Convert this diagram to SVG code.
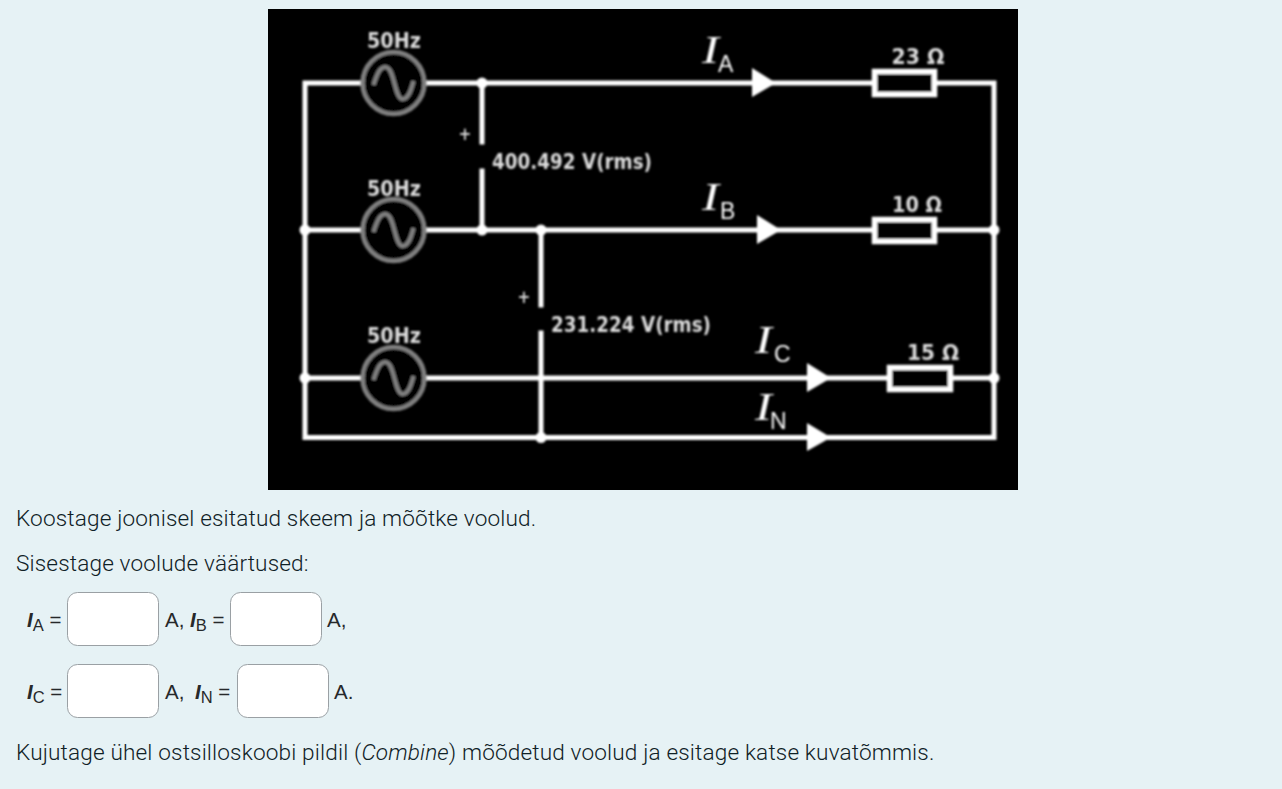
<svg xmlns="http://www.w3.org/2000/svg" width="1282" height="789" viewBox="0 0 1282 789">
<defs>
<filter id="soft" x="-5%" y="-5%" width="110%" height="110%"><feGaussianBlur stdDeviation="0.8"/></filter>
<g id="sine"><circle cx="0" cy="0" r="31" fill="#000" stroke="#808080" stroke-width="4.500"/><path d="M-20,2 C-16,-11 -13,-16 -8,-16 C1,-16 1,16 9,16 C14,16 17,10 20,-2" fill="none" stroke="#808080" stroke-width="4.200"/></g>
</defs>
<style>
.w{fill:none;stroke:#fff;stroke-width:5;stroke-linecap:square;stroke-linejoin:miter}
.r{fill:#000;stroke:#fff;stroke-width:5.500}
.a{fill:#fff}
.d{fill:#fff}
.s{font-family:"DejaVu Sans",sans-serif;font-stretch:condensed;font-size:21px;fill:#dcdcdc;font-weight:700}
.i{font-family:"Liberation Serif",serif;font-style:italic;font-size:39px;fill:#fff}
.sub{font-family:"Liberation Sans",sans-serif;font-size:23px;fill:#fff}
.t{font-family:Roboto,sans-serif;font-size:22.600px;font-weight:300;letter-spacing:0.145px;fill:#0f2126}
.m{font-family:"Liberation Sans",sans-serif;font-size:20.500px;fill:#26292b}
.mi{font-style:italic;font-weight:700}
.ms{font-size:16.500px}
.box{fill:#fff;stroke:#9aa0a4;stroke-width:1}
</style>
<rect width="1282" height="789" fill="#e6f2f5"/>
<g id="figure">
<rect x="268" y="9" width="750" height="481" fill="#000"/>
<g filter="url(#soft)">
<g id="connectors">
<path class="w" d="M872,83H305V437.500H994V83H872"/>
<path class="w" d="M305,230H994"/>
<path class="w" d="M305,378H994"/>
<path class="w" d="M482,83V142M482,171V230"/>
<path class="w" d="M541,230V305M541,333V437"/>
<polygon class="a" points="752,68 776,83 752,97"/>
<polygon class="a" points="757,215 781,230 757,244"/>
<polygon class="a" points="807,363 831,378 807,392"/>
<polygon class="a" points="807,423 831,437.500 807,451"/>
<circle class="d" cx="482" cy="83" r="5.500"/>
<circle class="d" cx="482" cy="230" r="5.500"/>
<circle class="d" cx="541" cy="230" r="5.500"/>
<circle class="d" cx="541" cy="437.500" r="5.500"/>
<circle class="d" cx="305" cy="230" r="5.500"/>
<circle class="d" cx="305" cy="378" r="5.500"/>
<circle class="d" cx="994" cy="230" r="5.500"/>
<circle class="d" cx="994" cy="378" r="5.500"/>
</g>
<g id="source-a"><use href="#sine" x="393.500" y="83"/><text class="s" x="394" y="48" text-anchor="middle" textLength="54" lengthAdjust="spacingAndGlyphs">50Hz</text></g>
<g id="source-b"><use href="#sine" x="393.500" y="230"/><text class="s" x="394" y="196" text-anchor="middle" textLength="54" lengthAdjust="spacingAndGlyphs">50Hz</text></g>
<g id="source-c"><use href="#sine" x="393.500" y="378"/><text class="s" x="394" y="343" text-anchor="middle" textLength="54" lengthAdjust="spacingAndGlyphs">50Hz</text></g>
<g id="res-a"><rect class="r" x="874.500" y="71.500" width="60" height="23"/><text class="s" x="918" y="64" text-anchor="middle" textLength="53" lengthAdjust="spacingAndGlyphs">23 Ω</text></g>
<g id="res-b"><rect class="r" x="874.500" y="219.500" width="60" height="22"/><text class="s" x="917" y="212" text-anchor="middle" textLength="50" lengthAdjust="spacingAndGlyphs">10 Ω</text></g>
<g id="res-c"><rect class="r" x="889.500" y="367.500" width="61" height="22"/><text class="s" x="933" y="360" text-anchor="middle" textLength="52" lengthAdjust="spacingAndGlyphs">15 Ω</text></g>
<g id="meter-ab"><text class="s" x="465" y="140" text-anchor="middle" style="font-size:17px">+</text><text class="s" x="492" y="169" textLength="160" lengthAdjust="spacingAndGlyphs">400.492 V(rms)</text></g>
<g id="meter-bc"><text class="s" x="524" y="303" text-anchor="middle" style="font-size:17px">+</text><text class="s" x="551" y="332" textLength="160" lengthAdjust="spacingAndGlyphs">231.224 V(rms)</text></g>
<g id="label-a"><text class="i" x="702" y="63" textLength="17" lengthAdjust="spacingAndGlyphs">I</text><text class="sub" x="718" y="72">A</text></g>
<g id="label-b"><text class="i" x="702" y="210" textLength="17" lengthAdjust="spacingAndGlyphs">I</text><text class="sub" x="720" y="219">B</text></g>
<g id="label-c"><text class="i" x="755" y="353" textLength="17" lengthAdjust="spacingAndGlyphs">I</text><text class="sub" x="774" y="362">C</text></g>
<g id="label-n"><text class="i" x="755" y="420" textLength="17" lengthAdjust="spacingAndGlyphs">I</text><text class="sub" x="770" y="429">N</text></g>
</g>
</g>
<g id="text">
<text class="t" x="16" y="526">Koostage joonisel esitatud skeem ja mõõtke voolud.</text>
<text class="t" x="16" y="571">Sisestage voolude väärtused:</text>
<text class="t" x="16" y="760">Kujutage ühel ostsilloskoobi pildil (<tspan font-style="italic">Combine</tspan>) mõõdetud voolud ja esitage katse kuvatõmmis.</text>
</g>
<g id="input-a"><rect class="box" x="67.500" y="592.500" width="91" height="53" rx="10"/></g>
<g id="input-b"><rect class="box" x="230.500" y="592.500" width="91" height="53" rx="10"/></g>
<g id="input-c"><rect class="box" x="67.500" y="664.500" width="91" height="53" rx="10"/></g>
<g id="input-n"><rect class="box" x="237.500" y="664.500" width="91" height="53" rx="10"/></g>
<g id="formula">
<text class="m" x="27" y="627"><tspan class="mi">I</tspan><tspan class="ms" dy="4">A</tspan><tspan dy="-4"> =</tspan></text>
<text class="m" x="165" y="627">A, <tspan class="mi">I</tspan><tspan class="ms" dy="4">B</tspan><tspan dy="-4"> =</tspan></text>
<text class="m" x="327" y="627">A,</text>
<text class="m" x="27" y="699"><tspan class="mi">I</tspan><tspan class="ms" dy="4">C</tspan><tspan dy="-4"> =</tspan></text>
<text class="m" x="165" y="699">A,</text>
<text class="m" x="195" y="699"><tspan class="mi">I</tspan><tspan class="ms" dy="4">N</tspan><tspan dy="-4"> =</tspan></text>
<text class="m" x="334" y="699">A.</text>
</g>
</svg>
